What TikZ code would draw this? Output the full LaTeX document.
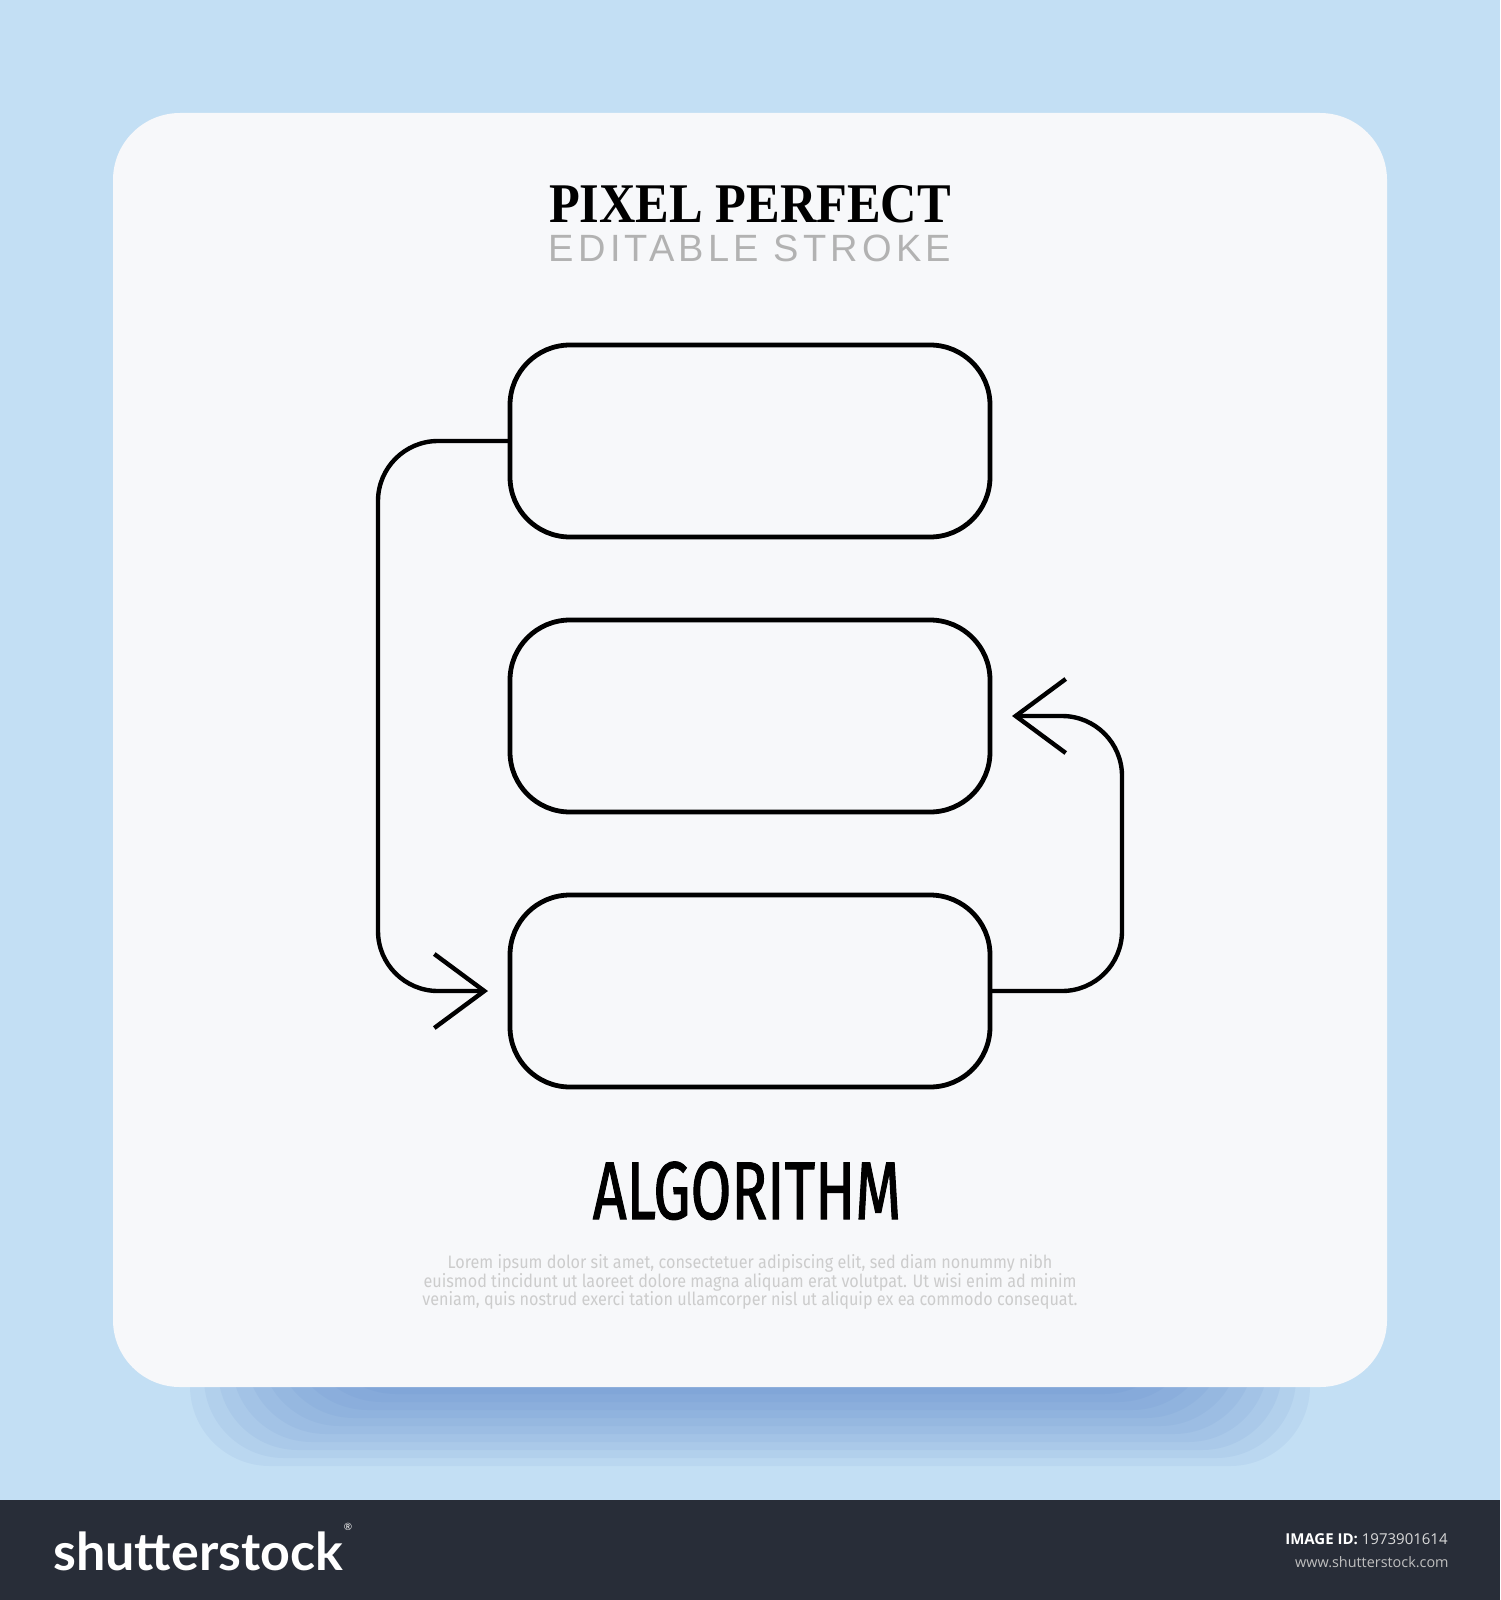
\documentclass[tikz,border=0pt]{standalone}
\usepackage{fontspec}
\usepackage{tikz}
\usetikzlibrary{arrows.meta,positioning}

\setmainfont{Liberation Sans}
\newfontfamily\headfont[FakeStretch=0.9]{Liberation Serif}
\newfontfamily\strokefont[LetterSpace=11]{Liberation Sans}
\newfontfamily\algofont[FakeStretch=0.72, FakeBold=1.2]{Fira Sans}
\newfontfamily\loremfont[FakeStretch=0.9]{Fira Sans}
\newfontfamily\logofont{Lato}
\newfontfamily\idfont{Open Sans}

\definecolor{sky}{HTML}{C3DFF4}
\definecolor{paper}{HTML}{F7F8FA}
\definecolor{shadowblue}{HTML}{4F7CC6}
\definecolor{footer}{HTML}{282D38}

\begin{document}
\begin{tikzpicture}[x=0.5pt, y=-0.5pt,
		box/.style   = {draw, line width=2.4pt, rounded corners=30pt, outer sep=0pt,
		                minimum width=240pt, minimum height=96pt},
		link/.style  = {draw, line width=2.2pt, rounded corners=30pt, ->},
		lorem/.style = {font=\loremfont\fontsize{9}{9}\selectfont, text=black!20, inner sep=0pt, anchor=base},
		>={Straight Barb[length=25pt, width=37pt]}]

	% background, shadow and card
	\useasboundingbox (0,0) rectangle (1500,1600);
	\fill[sky] (0,0) rectangle (1500,1600);
	\foreach \i in {0,...,9}
	\fill[shadowblue, opacity=0.075, rounded corners=40pt] (190+14*\i,1300) rectangle (1310-14*\i,1466-8*\i);
	\fill[paper, rounded corners=33.5pt] (113,113) rectangle (1387,1387);

	% heading
	\node[anchor=base, inner sep=0pt, font=\headfont\bfseries\fontsize{28}{28}\selectfont] (pixel) at (750,222) {PIXEL PERFECT};
	\node[anchor=base, inner sep=0pt, text=black!30, font=\strokefont\fontsize{19}{19}\selectfont] (stroke) at (750,261) {EDITABLE\ STROKE};

	% the three steps
	\node[box] (top) at (750,441) {};
	\node[box, below=41.5pt of top] (mid) {};
	\node[box, below=41.5pt of mid] (bot) {};

	\coordinate[left=11pt of bot.west] (lin);
	\coordinate[right=11pt of mid.east] (rin);

	\draw[link] (top.west) -- ++(-132,0) |- (lin);
	\draw[link] (bot.east) -- ++(132,0) |- (rin);

	% caption
	\node[anchor=base, inner sep=0pt, font=\algofont\fontsize{41}{41}\selectfont] (algo) at (747,1219) {ALGORITHM};

	\foreach \txt [count=\k] in {
		{Lorem ipsum dolor sit amet, consectetuer adipiscing elit, sed diam nonummy nibh},
		{euismod tincidunt ut laoreet dolore magna aliquam erat volutpat. Ut wisi enim ad minim},
		{veniam, quis nostrud exerci tation ullamcorper nisl ut aliquip ex ea commodo consequat.}}
	\node[lorem] (lorem\k) at (750,1250+18.5*\k) {\txt};

	% footer
	\fill[footer] (0,1500) rectangle (1500,1600);
	\node[anchor=base west, inner sep=0pt, text=white, font=\logofont\bfseries\fontsize{26}{26}\selectfont] (logo) at (53,1570) {shutterstock};
	\node[anchor=base west, inner sep=0pt, text=white, font=\logofont\fontsize{5}{5}\selectfont] (reg) at (logo.north east) {\textregistered};
	\node[anchor=base east, inner sep=0pt, font=\idfont\fontsize{7.5}{7.5}\selectfont] (imgid) at (1448,1544)
		{\textcolor{white}{\bfseries IMAGE ID:} \textcolor{black!15}{1973901614}};
	\node[anchor=base east, inner sep=0pt, text=black!25, font=\idfont\fontsize{7.2}{7.2}\selectfont] (site) at (1449,1567) {www.shutterstock.com};

\end{tikzpicture}
\end{document}
